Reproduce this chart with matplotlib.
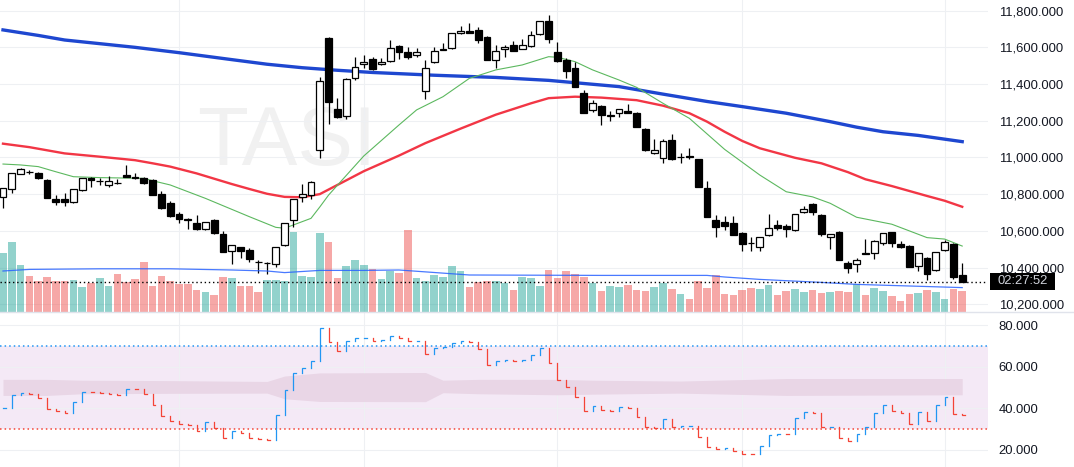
import matplotlib.pyplot as plt
from matplotlib.patches import Rectangle
from matplotlib.lines import Line2D
import numpy as np

plt.rcParams['font.family'] = ['Liberation Sans', 'DejaVu Sans']

# daily candles, TASI
opens = [10786, 10828, 10911, 10923, 10913, 10877, 10773, 10773, 10755, 10821,
         10888, 10869, 10848, 10862, 10904, 10891, 10886, 10877, 10799, 10750,
         10690, 10662, 10643, 10608, 10659, 10581, 10488, 10510, 10495, 10430,
         10422, 10417, 10521, 10659, 10786, 10793, 11040, 11649, 11264, 11224,
         11431, 11507, 11535, 11507, 11524, 11607, 11573, 11558, 11360, 11522,
         11587, 11595, 11676, 11689, 11694, 11656, 11533, 11589, 11613, 11593,
         11605, 11671, 11744, 11573, 11531, 11487, 11349, 11257, 11280, 11224,
         11240, 11251, 11240, 11155, 11026, 10999, 11093, 11000, 11008, 10990,
         10833, 10657, 10646, 10641, 10586, 10534, 10510, 10575, 10632, 10628,
         10603, 10701, 10746, 10686, 10565, 10595, 10423, 10417, 10479, 10481,
         10532, 10594, 10526, 10517, 10410, 10452, 10385, 10494, 10528, 10359]
highs = [10836, 10917, 10941, 10931, 10921, 10881, 10795, 10804, 10830, 10890,
         10895, 10886, 10901, 10881, 10959, 10913, 10892, 10881, 10815, 10761,
         10703, 10668, 10686, 10650, 10664, 10599, 10525, 10514, 10505, 10441,
         10432, 10514, 10645, 10775, 10855, 10871, 11440, 11655, 11322, 11431,
         11549, 11558, 11549, 11540, 11640, 11613, 11600, 11596, 11531, 11604,
         11625, 11680, 11716, 11731, 11709, 11662, 11613, 11613, 11635, 11645,
         11689, 11745, 11776, 11629, 11540, 11520, 11367, 11313, 11286, 11253,
         11266, 11291, 11249, 11159, 11100, 11099, 11128, 11022, 11050, 10993,
         10872, 10686, 10681, 10681, 10592, 10568, 10568, 10692, 10659, 10637,
         10694, 10735, 10750, 10692, 10585, 10599, 10436, 10452, 10555, 10548,
         10590, 10595, 10543, 10521, 10481, 10459, 10486, 10550, 10532, 10427]
lows = [10723, 10808, 10910, 10908, 10882, 10777, 10743, 10737, 10750, 10817,
        10841, 10848, 10841, 10853, 10893, 10882, 10853, 10793, 10719, 10674,
        10641, 10608, 10605, 10605, 10581, 10483, 10417, 10450, 10432, 10368,
        10363, 10405, 10517, 10623, 10755, 10773, 10995, 11180, 11215, 11208,
        11422, 11489, 11478, 11504, 11520, 11538, 11538, 11549, 11317, 11516,
        11585, 11591, 11674, 11676, 11622, 11529, 11489, 11545, 11580, 11591,
        11604, 11669, 11625, 11522, 11435, 11382, 11240, 11249, 11179, 11200,
        11222, 11242, 11166, 11037, 11019, 10971, 10986, 10971, 10993, 10839,
        10675, 10568, 10604, 10575, 10492, 10492, 10492, 10574, 10604, 10568,
        10599, 10695, 10684, 10574, 10499, 10441, 10372, 10377, 10474, 10445,
        10523, 10514, 10506, 10403, 10379, 10332, 10381, 10490, 10339, 10321]
closes = [10832, 10913, 10935, 10920, 10890, 10781, 10759, 10755, 10826, 10886,
          10875, 10871, 10870, 10860, 10895, 10889, 10862, 10797, 10723, 10683,
          10663, 10660, 10608, 10646, 10586, 10486, 10521, 10488, 10445, 10428,
          10424, 10510, 10641, 10772, 10799, 10864, 11418, 11300, 11219, 11426,
          11495, 11520, 11484, 11520, 11595, 11573, 11549, 11573, 11486, 11582,
          11591, 11676, 11689, 11680, 11638, 11533, 11578, 11604, 11582, 11611,
          11665, 11742, 11647, 11527, 11473, 11386, 11244, 11295, 11233, 11232,
          11262, 11244, 11168, 11042, 11040, 11090, 10990, 11003, 11005, 10841,
          10677, 10623, 10628, 10579, 10530, 10531, 10565, 10614, 10617, 10612,
          10690, 10717, 10704, 10581, 10583, 10443, 10399, 10441, 10476, 10545,
          10586, 10532, 10514, 10405, 10477, 10367, 10483, 10537, 10350, 10323]
# volume, millions of shares
volumes = [295, 350, 235, 180, 155, 175, 155, 155, 160, 125,
           145, 170, 130, 190, 150, 165, 250, 130, 180, 155,
           140, 140, 110, 100, 85, 175, 170, 130, 130, 100,
           160, 160, 155, 400, 180, 175, 395, 350, 170, 230,
           260, 235, 215, 165, 205, 195, 410, 170, 155, 185,
           175, 230, 205, 125, 150, 155, 155, 145, 110, 175,
           170, 130, 210, 170, 205, 190, 175, 145, 105, 130,
           125, 135, 110, 105, 125, 145, 115, 90, 65, 155,
           120, 185, 90, 85, 110, 120, 115, 135, 85, 105,
           115, 100, 110, 95, 100, 105, 100, 140, 85, 120,
           105, 80, 55, 90, 95, 110, 100, 65, 115, 105]
rsi = [40.3, 46.2, 47.5, 47.0, 45.1, 39.5, 38.6, 37.8, 43.2, 48.0,
       47.8, 47.5, 47.0, 46.5, 49.4, 49.2, 47.0, 41.5, 36.2, 34.0,
       32.5, 32.2, 29.2, 33.5, 30.6, 25.6, 29.2, 28.2, 25.8, 25.5,
       25.0, 36.6, 48.6, 57.2, 59.2, 62.5, 78.4, 72.0, 67.6, 72.1,
       73.6, 74.0, 72.4, 72.6, 74.5, 73.6, 72.1, 72.3, 66.3, 69.1,
       69.4, 71.6, 72.1, 72.0, 68.4, 61.0, 62.5, 63.3, 62.5, 63.3,
       65.8, 69.2, 62.0, 53.6, 50.4, 45.6, 38.8, 41.2, 39.1, 38.8,
       40.7, 40.1, 35.9, 31.1, 30.6, 35.1, 31.1, 31.6, 31.7, 26.3,
       21.4, 20.6, 20.8, 19.3, 18.2, 18.1, 22.1, 27.1, 27.9, 27.7,
       35.4, 38.3, 37.7, 30.9, 31.1, 25.6, 24.2, 27.7, 31.1, 37.8,
       41.7, 38.8, 37.8, 32.5, 38.3, 33.8, 41.7, 45.6, 37.4, 36.6]

# moving averages read at a few bars
ma20_bar = [0, 2, 4, 6, 8, 11, 16, 17, 19, 23, 28, 31, 32, 35, 36, 37, 41, 45,
            47, 50, 53, 56, 59, 62, 63, 65, 67, 70, 72, 75, 78, 82, 86, 89, 92,
            94, 97, 101, 105, 107, 109]
ma20 = [10964, 10959, 10950, 10922, 10895, 10890, 10886, 10873, 10850, 10777,
        10677, 10619, 10614, 10668, 10730, 10795, 11008, 11177, 11259, 11331,
        11431, 11477, 11504, 11549, 11546, 11522, 11477, 11422, 11382, 11295,
        11213, 11044, 10904, 10813, 10785, 10750, 10674, 10636, 10563, 10555,
        10517]
ma50_bar = [0, 3, 7, 11, 15, 17, 19, 22, 26, 28, 30, 32, 34, 36, 38, 41, 45,
            48, 52, 56, 60, 62, 65, 68, 72, 75, 78, 80, 82, 84, 86, 90, 93, 96,
            98, 101, 105, 107, 109]
ma50 = [11075, 11056, 11022, 11004, 10985, 10968, 10950, 10913, 10855, 10828,
        10802, 10785, 10783, 10800, 10850, 10925, 11010, 11078, 11157, 11233,
        11295, 11323, 11331, 11326, 11312, 11282, 11241, 11195, 11140, 11090,
        11050, 10998, 10968, 10920, 10881, 10844, 10790, 10764, 10731]
ma200_bar = [0, 4, 7, 11, 15, 20, 26, 30, 34, 38, 42, 49, 56, 62, 66, 70, 75,
             80, 84, 89, 94, 97, 100, 104, 109]
ma200 = [11695, 11665, 11640, 11620, 11600, 11571, 11533, 11508, 11489, 11475,
         11463, 11448, 11436, 11420, 11403, 11386, 11345, 11305, 11277, 11241,
         11195, 11165, 11140, 11120, 11086]
vol_ma_bar = [0, 3, 11, 19, 26, 30, 32, 36, 41, 45, 53, 68, 80, 82, 86, 93, 97, 109]
vol_ma = [205, 213, 216, 216, 210, 205, 197, 208, 208, 210, 185, 183, 183, 175,
          163, 148, 138, 122]
# band around the RSI average
band_bar = [0, 5, 9, 19, 30, 32, 36, 48, 50, 54, 63, 67, 77, 89, 109]
band_hi = [53.9, 53.9, 53.5, 53.3, 52.9, 55.5, 57.0, 57.2, 53.5, 53.9, 53.9,
           53.5, 53.1, 54.3, 54.3]
band_lo = [46.2, 46.2, 47.0, 47.2, 47.3, 44.6, 43.3, 43.2, 47.5, 47.0, 46.5,
           46.8, 47.3, 46.2, 46.5]

price_ticks = [10200, 10400, 10600, 10800, 11000, 11200, 11400, 11600, 11800]
rsi_ticks = [20, 40, 60, 80]
month_bars = [20, 41, 63, 84, 107]
countdown = '02:27:52'

W, H = 1074, 467
fig = plt.figure(figsize=(W / 100, H / 100), dpi=100)
main_rect = [0, 1 - 312 / H, 988 / W, 312 / H]
ax = fig.add_axes(main_rect)
axv = fig.add_axes(main_rect)
axr = fig.add_axes([0, 0, 988 / W, 154 / H])

opens = np.array(opens)
closes = np.array(closes)
n = len(closes)
x = np.arange(n)
up = closes >= opens
xlim = (-0.34, 111.93)

grid_c = '#eef0f3'
text_c = '#131722'

# price panel
ax.text(287 / W, 1 - 165 / H, 'TASI', transform=fig.transFigure, fontsize=60,
        color='#f1f1f1', ha='center', va='baseline', zorder=0)
ax.plot(ma200_bar, ma200, color='#1e47d0', lw=2.4, zorder=2,
        solid_joinstyle='round')
ax.plot(ma50_bar, ma50, color='#f23645', lw=1.7, zorder=2,
        solid_joinstyle='round')
ax.plot(ma20_bar, ma20, color='#5cb85f', lw=0.8, zorder=2)
ax.vlines(x, lows, highs, color='black', lw=0.9, zorder=4)
body_lo = np.minimum(opens, closes)
body_h = np.maximum(np.abs(closes - opens), 1.0)
ax.bar(x, body_h, bottom=body_lo, width=0.78,
       color=np.where(up, 'white', 'black'), edgecolor='black',
       linewidth=0.9, zorder=5)
ax.set_xlim(xlim)
ax.set_ylim(10157.6, 11858)
ax.yaxis.tick_right()
ax.set_yticks(price_ticks)
ax.set_yticklabels([f'{p:,.3f}' for p in price_ticks])
ax.set_xticks(month_bars)
ax.tick_params(axis='y', length=0, pad=7.6, labelsize=9.4, labelcolor=text_c)
ax.tick_params(axis='x', length=0, labelbottom=False)
ax.grid(True, color=grid_c, lw=0.8)
ax.set_axisbelow(True)

# volume overlay
axv.patch.set_visible(False)
axv.bar(x, volumes, width=0.87, color=np.where(up, '#26a69a', '#ef5350'),
        alpha=0.5, linewidth=0)
axv.plot(vol_ma_bar, vol_ma, color='#2962ff', lw=0.9, alpha=0.85)
axv.plot(xlim, [closes[-1], closes[-1]], transform=ax.transData,
         color='black', lw=1.0, ls=(0, (1, 2)))
axv.set_xlim(xlim)
axv.set_ylim(0, 1560)
axv.axis('off')

# RSI panel
axr.axhspan(30, 70, color='#f4e9f6', lw=0, zorder=0)
axr.fill_between(band_bar, band_lo, band_hi, color='#e9d6e6', lw=0, zorder=1)
axr.axhline(70, color='#2196f3', lw=1.1, ls=(0, (1, 2)), zorder=2)
axr.axhline(30, color='#f44336', lw=1.1, ls=(0, (1, 2)), zorder=2)
for i in range(n):
    prev = rsi[i - 1] if i else rsi[i]
    col = '#2196f3' if rsi[i] >= prev else '#f44336'
    axr.plot([i, i, i + 0.32], [prev, rsi[i], rsi[i]], color=col, lw=0.9,
             solid_joinstyle='miter', zorder=3)
axr.set_xlim(xlim)
axr.set_ylim(11.84, 85.76)
axr.yaxis.tick_right()
axr.set_yticks(rsi_ticks)
axr.set_yticklabels([f'{v:.3f}' for v in rsi_ticks])
axr.set_xticks(month_bars)
axr.tick_params(axis='y', length=0, pad=7.6, labelsize=9.4, labelcolor=text_c)
axr.tick_params(axis='x', length=0, labelbottom=False)
axr.grid(True, color=grid_c, lw=0.8)
axr.set_axisbelow(True)

for a in (ax, axv, axr):
    for s in a.spines.values():
        s.set_visible(False)

fig.add_artist(Line2D([0, 1], [1 - 312.3 / H] * 2, color='#e0e3eb', lw=1.0))
fig.add_artist(Rectangle((990 / W, 1 - 290 / H), 65 / W, 17 / H,
                         transform=fig.transFigure, color='black', lw=0))
fig.text(1022.5 / W, 1 - 281.5 / H, countdown, color='#d1d4dc', fontsize=9.4,
         ha='center', va='center')

fig.savefig('out.png', dpi=100, facecolor='white')
